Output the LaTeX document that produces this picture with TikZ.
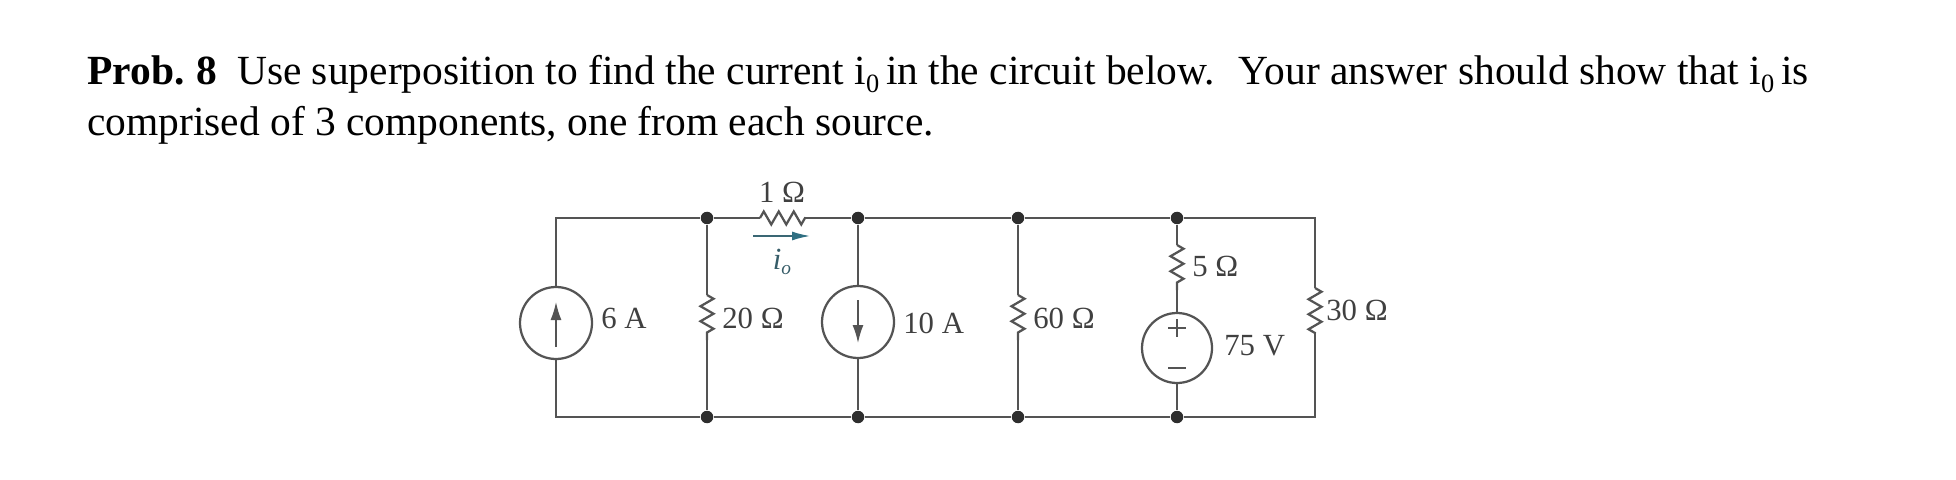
\documentclass[tikz,border=0pt]{standalone}
\usepackage{fontspec}
\setmainfont{Liberation Serif}
\usetikzlibrary{arrows.meta,decorations.pathmorphing}
\pgfdeclarelayer{bg}
\pgfsetlayers{bg,main}
\definecolor{wire}{gray}{0.33}
\definecolor{ink}{gray}{0.25}
\definecolor{teal}{HTML}{2F6F82}
\newcommand{\subzero}{\raisebox{-.42ex}{\fontsize{15pt}{16pt}\selectfont 0}\kern-0.07cm}
\tikzset{
    dot/.style={circle, inner sep=0mm, minimum size=0.25cm, fill=black!82},
    src/.style={circle, inner sep=0mm, minimum size=1.44cm, draw=wire, line width=0.045cm},
    val/.style={inner sep=0mm, text=ink, font=\fontsize{17.5pt}{19pt}\selectfont},
    prob/.style={inner sep=0mm, anchor=base west, font=\fontsize{23.6pt}{25pt}\selectfont},
    wr/.style={draw=wire, line width=0.045cm},
    res/.style={draw=wire, line width=0.045cm, decorate,
        decoration={zigzag, amplitude=0.13cm, segment length=0.3cm}},
    sym/.style={draw=wire, line width=0.03cm}
}

\begin{document}
\begin{tikzpicture}
        \useasboundingbox (0cm, 0cm) rectangle (39.12cm, 9.58cm);
        % text
        \node (t1) [prob] at (1.74cm, 7.89cm) {\textbf{Prob.\;8}\hspace{0.2cm} Use superposition to find the current i\subzero{} in the circuit below.\hspace{0.2cm} Your answer should show that i\subzero{} is};
        \node (t2) [prob] at (1.74cm, 6.87cm) {comprised of 3 components, one from each source.};
        % corners
        \coordinate (tl) at (11.12cm, 5.22cm);
        \coordinate (bl) at (11.12cm, 1.24cm);
        \coordinate (tr) at (26.30cm, 5.22cm);
        \coordinate (br) at (26.30cm, 1.24cm);
        % junctions
        \node (n1) [dot] at (14.14cm, 5.22cm) {};
        \node (n2) [dot] at (17.16cm, 5.22cm) {};
        \node (n3) [dot] at (20.36cm, 5.22cm) {};
        \node (n4) [dot] at (23.54cm, 5.22cm) {};
        \node (m1) [dot] at (14.14cm, 1.24cm) {};
        \node (m2) [dot] at (17.16cm, 1.24cm) {};
        \node (m3) [dot] at (20.36cm, 1.24cm) {};
        \node (m4) [dot] at (23.54cm, 1.24cm) {};
        % sources
        \node (s1) [src] at (11.12cm, 3.12cm) {};
        \node (s2) [src] at (17.16cm, 3.14cm) {};
        \node (s3) [src, minimum size=1.40cm] at (23.54cm, 2.62cm) {};
        % resistor ends
        \coordinate (r1a) at (15.20cm, 5.22cm);
        \coordinate (r1b) at (16.10cm, 5.22cm);
        \coordinate (r2a) at (14.14cm, 3.68cm);
        \coordinate (r2b) at (14.14cm, 2.78cm);
        \coordinate (r3a) at (20.36cm, 3.68cm);
        \coordinate (r3b) at (20.36cm, 2.78cm);
        \coordinate (r4a) at (23.54cm, 4.68cm);
        \coordinate (r4b) at (23.54cm, 3.78cm);
        \coordinate (r5a) at (26.30cm, 3.82cm);
        \coordinate (r5b) at (26.30cm, 2.92cm);
        % inner arrows
        \coordinate (a1a) at (11.12cm, 2.64cm);
        \coordinate (a1b) at (11.12cm, 3.54cm);
        \coordinate (a2a) at (17.16cm, 3.58cm);
        \coordinate (a2b) at (17.16cm, 2.72cm);
        \coordinate (ioa) at (15.06cm, 4.86cm);
        \coordinate (iob) at (16.20cm, 4.86cm);
        % labels
        \node (l1) [val] at (15.64cm, 5.74cm) {1 Ω};
        \node (l2) [val, anchor=west] at (12.02cm, 3.22cm) {6 A};
        \node (l3) [val, anchor=west] at (14.44cm, 3.22cm) {20 Ω};
        \node (l4) [val, anchor=west] at (18.06cm, 3.12cm) {10 A};
        \node (l5) [val, anchor=west] at (20.66cm, 3.22cm) {60 Ω};
        \node (l6) [val, anchor=west] at (23.84cm, 4.26cm) {5 Ω};
        \node (l7) [val, anchor=west] at (24.48cm, 2.66cm) {75 V};
        \node (l8) [val, anchor=west] at (26.52cm, 3.38cm) {30 Ω};
        \node (l9) [val, text=teal!60!ink] at (15.64cm, 4.34cm) {\textit{i}\raisebox{-.35ex}{\fontsize{11pt}{12pt}\selectfont\textit{o}}};
        % plus and minus
        \coordinate (pl) at (23.36cm, 3.02cm);
        \coordinate (pr) at (23.72cm, 3.02cm);
        \coordinate (pt) at (23.54cm, 3.20cm);
        \coordinate (pb) at (23.54cm, 2.84cm);
        \coordinate (ml) at (23.36cm, 2.22cm);
        \coordinate (mr) at (23.72cm, 2.22cm);
        \begin{pgfonlayer}{bg}
                \draw [wr] (s1) -- (tl) -- (n1);
                \draw [wr] (s1) -- (bl) -- (m1);
                \draw [wr] (n1) -- (r1a);
                \draw [res] (r1a) -- (r1b);
                \draw [wr] (r1b) -- (n2);
                \draw [wr] (n2) -- (n3);
                \draw [wr] (n3) -- (n4);
                \draw [wr] (n4) -- (tr) -- (r5a);
                \draw [res] (r5a) -- (r5b);
                \draw [wr] (r5b) -- (br) -- (m4);
                \draw [wr] (m1) -- (m2);
                \draw [wr] (m2) -- (m3);
                \draw [wr] (m3) -- (m4);
                \draw [wr] (n1) -- (r2a);
                \draw [res] (r2a) -- (r2b);
                \draw [wr] (r2b) -- (m1);
                \draw [wr] (n2) -- (s2);
                \draw [wr] (s2) -- (m2);
                \draw [wr] (n3) -- (r3a);
                \draw [res] (r3a) -- (r3b);
                \draw [wr] (r3b) -- (m3);
                \draw [wr] (n4) -- (r4a);
                \draw [res] (r4a) -- (r4b);
                \draw [wr] (r4b) -- (s3);
                \draw [wr] (s3) -- (m4);
        \end{pgfonlayer}
        \draw [sym, -{Latex[length=0.36cm, width=0.22cm]}] (a1a) -- (a1b);
        \draw [sym, -{Latex[length=0.36cm, width=0.22cm]}] (a2a) -- (a2b);
        \draw [draw=teal!70!wire, line width=0.03cm, -{Latex[length=0.36cm, width=0.18cm, color=teal]}] (ioa) -- (iob);
        \draw [sym] (pl) -- (pr);
        \draw [sym] (pt) -- (pb);
        \draw [sym] (ml) -- (mr);
\end{tikzpicture}
\end{document}
